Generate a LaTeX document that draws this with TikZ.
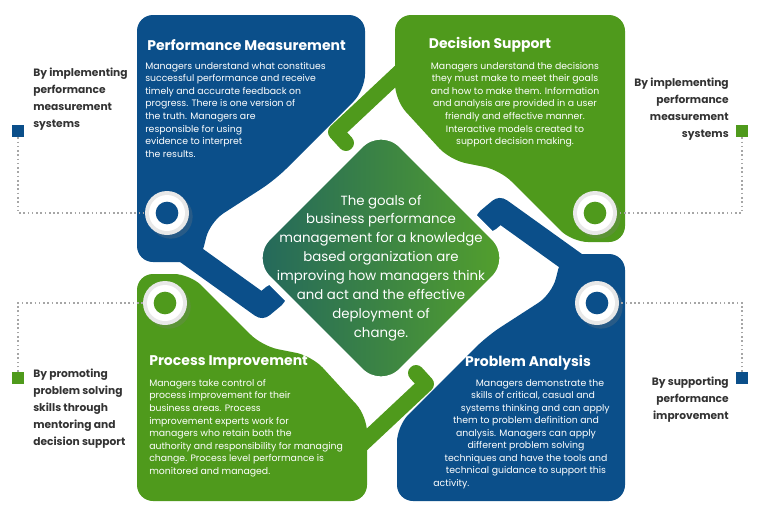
\documentclass[tikz,border=0pt]{standalone}
\usepackage{fontspec}
\setmainfont{Poppins}
\usetikzlibrary{positioning,shadows}
\definecolor{pmBlue}{HTML}{0B4F8A}
\definecolor{pmGreen}{HTML}{4F9A1C}
\definecolor{diaDark}{HTML}{22665E}
\definecolor{diaLight}{HTML}{55A22A}
\definecolor{sideText}{HTML}{333333}

% left-hand quarter (top-left, and turned round for bottom-right)
\newcommand{\leftpanel}[1]{%
  \fill[#1, rounded corners=12pt] (137,15) -- (365,15) -- (365,90) -- (275,180)
    -- (210,222) -- (200,262) -- (137,262) -- cycle;
  \draw[#1, line width=18pt, line cap=round, line join=round] (170,240) -- (262,306) -- (274,296);
}
% right-hand quarter (top-right, and turned round for bottom-left)
\newcommand{\rightpanel}[1]{%
  \fill[#1, rounded corners=12pt] (395,15) -- (625,15) -- (625,242) -- (572,242)
    -- (545,215) -- (500,170) -- (450,160) -- (395,100) -- cycle;
  \draw[#1, line width=12pt, line cap=round, line join=round] (400,72) -- (336,132) -- (346,143);
}
\newcommand{\ringat}[3]{%
  \node[ring] (#1) at (#2) {};
  \node[ring inner] at (#1) {};
  \node[ring core, fill=#3] at (#1) {};
}

\begin{document}
\begin{tikzpicture}[
    x=0.75pt, y=-0.75pt,
    ring/.style={circle, fill=gray!18, minimum size=33pt, inner sep=0pt, drop shadow={opacity=0.25}},
    ring inner/.style={circle, fill=white, minimum size=27pt, inner sep=0pt},
    ring core/.style={circle, minimum size=17pt, inner sep=0pt},
    diamondbox/.style={rectangle, rotate=45, minimum size=142pt, rounded corners=22pt,
      left color=diaDark, right color=diaLight, draw=white, line width=5pt},
    title/.style={text=white, font=\fontsize{10.5}{12}\selectfont\bfseries, inner sep=0pt},
    body/.style={text=white, font=\fontsize{7}{9.4}\selectfont, inner sep=0pt},
    side/.style={text=sideText, font=\fontsize{8}{12.7}\selectfont\bfseries, inner sep=0pt},
    sq/.style={minimum size=9pt, inner sep=0pt},
    dotline/.style={draw=gray!70, dotted, line width=1.2pt}
  ]
  \useasboundingbox (0,0) rectangle (760,518);

  % panels
  \leftpanel{pmBlue}
  \rightpanel{pmGreen}
  \begin{scope}[shift={(762,516)}, rotate=180]
    \leftpanel{pmBlue}
    \rightpanel{pmGreen}
  \end{scope}

  % rings
  \ringat{ringTL}{167,213}{pmBlue}
  \ringat{ringTR}{595,213}{pmGreen}
  \ringat{ringBL}{165,303}{pmGreen}
  \ringat{ringBR}{597,303}{pmBlue}

  % centre
  \node[diamondbox] (goals) at (381,258) {};
  \node[text=white, font=\fontsize{10}{14.2}\selectfont, align=center] (goalsText) at (381,268)
    {The goals of\\business performance\\management for a knowledge\\based organization are\\improving how managers think\\and act and the effective\\deployment of\\change.};

  % panel texts
  \node[title, anchor=west] (pmTitle) at (147,45) {Performance Measurement};
  \node[body, anchor=north west, align=left] (pmBody) at (145,62)
    {Managers understand what constitues\\successful performance and receive\\timely and accurate feedback on\\progress. There is one version of\\the truth. Managers are\\responsible for using\\evidence to interpret\\the results.};
  \node[title] (dsTitle) at (490,45) {Decision Support};
  \node[body, anchor=north, align=center] (dsBody) at (515,62)
    {Managers understand the decisions\\they must make to meet their goals\\and how to make them. Information\\and analysis are provided in a user\\friendly and effective manner.\\Interactive models created to\\support decision making.};
  \node[title, anchor=west] (piTitle) at (149,362) {Process Improvement};
  \node[body, anchor=north west, align=left] (piBody) at (149,379)
    {Managers take control of\\process improvement for their\\business areas. Process\\improvement experts work for\\managers who retain both the\\authority and responsibility for managing\\change. Process level performance is\\monitored and managed.};
  \node[title] (paTitle) at (528,363) {Problem Analysis};
  \node[body, anchor=north, align=center] (paBody) at (526,379)
    {\hspace*{3em}Managers demonstrate the\\\hspace*{1.5em}skills of critical, casual and\\\hspace*{2em}systems thinking and can apply\\them to problem definition and\\analysis. Managers can apply\\different problem solving\hspace*{5em}\\techniques and have the tools and\\technical guidance to support this\\activity.\hspace*{16em}};

  % side notes
  \node[sq, fill=pmBlue] (sqTL) at (18,131) {};
  \node[side, anchor=north west, align=left] (noteTL) at (33,68)
    {By implementing\\performance\\measurement\\systems};
  \node[sq, fill=pmGreen] (sqTR) at (742,131) {};
  \node[side, anchor=north east, align=right] (noteTR) at (729,78)
    {By implementing\\performance\\measurement\\systems};
  \node[sq, fill=pmGreen] (sqBL) at (18,378) {};
  \node[side, anchor=north west, align=left] (noteBL) at (33,369)
    {By promoting\\problem solving\\skills through\\mentoring and\\decision support};
  \node[sq, fill=pmBlue] (sqBR) at (742,378) {};
  \node[side, anchor=north east, align=right] (noteBR) at (729,377)
    {By supporting\\performance\\improvement};

  \draw[dotline] (sqTL.south) |- (ringTL.west);
  \draw[dotline] (sqTR.south) |- (ringTR.east);
  \draw[dotline] (sqBL.north) |- (ringBL.west);
  \draw[dotline] (sqBR.north) |- (ringBR.east);
\end{tikzpicture}
\end{document}
